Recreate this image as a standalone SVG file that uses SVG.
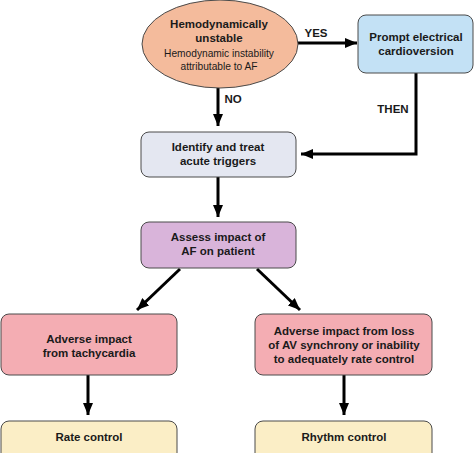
<svg xmlns="http://www.w3.org/2000/svg" width="474" height="453" viewBox="0 0 474 453">
<defs>
<marker id="ah" viewBox="0 0 12 10" refX="12" refY="5" markerWidth="12" markerHeight="10" markerUnits="userSpaceOnUse" orient="auto">
<path d="M0,0 L12,5 L0,10 Z" fill="#000"/>
</marker>
<style>
.b{font-family:"Liberation Sans",Arial,sans-serif;font-weight:bold;font-size:11.5px;fill:#1a1a1a;text-anchor:middle}
.r{font-family:"Liberation Sans",Arial,sans-serif;font-size:10.2px;fill:#1a1a1a;text-anchor:middle}
.n{stroke:#4a4a4a;stroke-width:1}
.c{stroke:#000;stroke-width:3;fill:none;marker-end:url(#ah)}
</style>
</defs>
<rect width="474" height="453" fill="#fff"/>
<g id="connectors">
<path class="c" d="M296,43 H357"/>
<path class="c" d="M218,88 V126"/>
<path class="c" d="M416,73 V154 H301"/>
<path class="c" d="M218,177 V217"/>
<path class="c" d="M180,269 L137,310"/>
<path class="c" d="M257,269 L300,310"/>
<path class="c" d="M88,375 V415"/>
<path class="c" d="M344,375 V415"/>
<text class="b" x="316" y="37">YES</text>
<text class="b" x="233" y="103">NO</text>
<text class="b" x="393" y="113">THEN</text>
</g>
<g id="unstable">
<ellipse class="n" cx="220" cy="44" rx="78" ry="44" fill="#f4bb9c"/>
<text class="b" x="219" y="28">Hemodynamically</text>
<text class="b" x="219" y="42">unstable</text>
<text class="r" x="219" y="57">Hemodynamic instability</text>
<text class="r" x="219" y="70">attributable to AF</text>
</g>
<g id="cardioversion">
<rect class="n" x="358" y="15" width="115" height="58" rx="8" fill="#c3e1f5"/>
<text class="b" x="416" y="41">Prompt electrical</text>
<text class="b" x="416" y="55">cardioversion</text>
</g>
<g id="triggers">
<rect class="n" x="141" y="132" width="155" height="45" rx="8" fill="#e4e7f1"/>
<text class="b" x="218" y="151">Identify and treat</text>
<text class="b" x="218" y="165">acute triggers</text>
</g>
<g id="assess">
<rect class="n" x="141" y="222" width="155" height="46" rx="8" fill="#d9b4da"/>
<text class="b" x="218" y="241">Assess impact of</text>
<text class="b" x="218" y="255">AF on patient</text>
</g>
<g id="tachy">
<rect class="n" x="1" y="314" width="176" height="61" rx="8" fill="#f4adb3"/>
<text class="b" x="89" y="343">Adverse impact</text>
<text class="b" x="89" y="357">from tachycardia</text>
</g>
<g id="avsync">
<rect class="n" x="255" y="314" width="177" height="61" rx="8" fill="#f4adb3"/>
<text class="b" x="344" y="335">Adverse impact from loss</text>
<text class="b" x="344" y="349">of AV synchrony or inability</text>
<text class="b" x="344" y="363">to adequately rate control</text>
</g>
<g id="rate">
<rect class="n" x="1" y="421" width="176" height="44" rx="8" fill="#fbeec6"/>
<text class="b" x="89" y="441">Rate control</text>
</g>
<g id="rhythm">
<rect class="n" x="255" y="421" width="177" height="44" rx="8" fill="#fbeec6"/>
<text class="b" x="344" y="441">Rhythm control</text>
</g>
</svg>
